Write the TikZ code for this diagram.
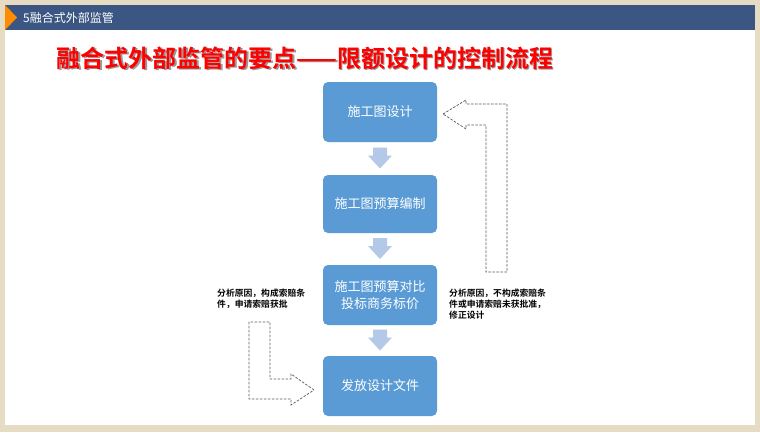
\documentclass[tikz,border=0pt]{standalone}
\usepackage{fontspec}
\setmainfont{Noto Sans CJK SC}
\newfontfamily\cjkb{Noto Sans CJK SC Bold}
\begin{document}
\begin{tikzpicture}[x=1pt,y=-1pt,
  bx/.style={fill=boxblue,rounded corners=5pt,minimum width=114pt,minimum height=60pt,text=white,font=\fontsize{13}{17}\selectfont,align=center,inner sep=0pt},
  dsh/.style={draw=gray!70!black,dashed,dash pattern=on 2.5pt off 1.5pt,line width=0.7pt},
  note/.style={font=\cjkb\fontsize{8.8}{11}\selectfont,align=left,anchor=north west,inner sep=0pt}]
\definecolor{boxblue}{HTML}{5B9BD5}
\definecolor{arrowblue}{HTML}{B4C9E8}
\definecolor{hdr}{HTML}{3B5683}
\definecolor{beige}{HTML}{E6DCC4}
\useasboundingbox (0,0) rectangle (760,432);
\fill[beige] (0,0) rectangle (760,432);
\fill[white] (5,5) rectangle (755,425);
\fill[hdr] (5,5) rectangle (755,30);
\fill[orange!90!yellow] (5,5) -- (17,17.5) -- (5,30) -- cycle;
\node[anchor=west,text=white,font=\fontsize{12}{14}\selectfont,inner sep=0pt] (hd) at (23,17.5) {5融合式外部监管};
\node[text=black!40,font=\cjkb\fontsize{24}{28}\selectfont,inner sep=0pt] (ts) at (306.5,59) {融合式外部监管的要点——限额设计的控制流程};
\node[text=red,font=\cjkb\fontsize{24}{28}\selectfont,inner sep=0pt] (t) at (305,58) {融合式外部监管的要点——限额设计的控制流程};
\node[bx] (b1) at (380,112) {施工图设计};
\node[bx,minimum height=58pt] (b2) at (380,204) {施工图预算编制};
\node[bx] (b3) at (380,295) {施工图预算对比\\投标商务标价};
\node[bx] (b4) at (380,386) {发放设计文件};
\foreach \a/\b in {b1/b2,b2/b3,b3/b4}{
  \path (\a.south) -- (\b.north) coordinate[pos=0.5] (m);
  \fill[arrowblue] ([shift={(-7,-11)}]m) -- ([shift={(7,-11)}]m) -- ([shift={(7,-3)}]m) -- ([shift={(12,-3)}]m) -- ([shift={(0,10)}]m) -- ([shift={(-12,-3)}]m) -- ([shift={(-7,-3)}]m) -- cycle;
}
\coordinate (r1) at (443,114);
\draw[dsh] (r1) -- (466,100) -- (466,104) -- (507,104) -- (507,272) -- (486,272) -- (486,125) -- (466,125) -- (466,129) -- cycle;
\coordinate (l1) at (314,390);
\draw[dsh] (l1) -- (291,374) -- (291,379) -- (270,379) -- (270,322) -- (249,322) -- (249,399) -- (291,399) -- (291,405) -- cycle;
\node[note] (n1) at (217,289) {分析原因，构成索赔条\\件，申请索赔获批};
\node[note] (n2) at (449,289) {分析原因，不构成索赔条\\件或申请索赔未获批准，\\修正设计};
\end{tikzpicture}
\end{document}
